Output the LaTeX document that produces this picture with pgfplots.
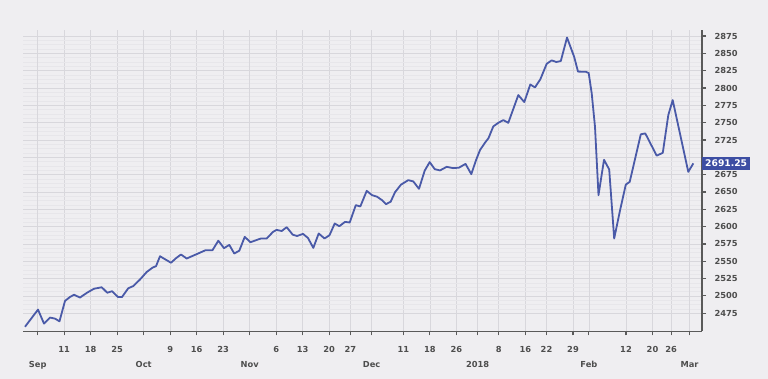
\documentclass[border=0pt]{standalone}
\usepackage{fontspec}
\setmainfont{DejaVu Sans}
\usepackage{pgfplots}
\pgfplotsset{compat=1.18}
\definecolor{bgc}{HTML}{EFEEF1}
\definecolor{majgrid}{HTML}{D8D7DC}
\definecolor{mingrid}{HTML}{E7E6EA}
\definecolor{linec}{HTML}{4A5AA8}
\definecolor{boxc}{HTML}{3D4EA3}
\definecolor{txt}{HTML}{4E4E4E}
\definecolor{axc}{HTML}{5A5A5A}
\begin{document}
\begin{tikzpicture}
\useasboundingbox (0pt,0pt) rectangle (768pt,379pt);
\fill[bgc] (0pt,0pt) rectangle (768pt,379pt);
\begin{axis}[
  at={(23.5pt,47.5pt)}, anchor=south west,
  scale only axis, width=678.5pt, height=301.5pt,
  xmin=-2.68, xmax=125.34, ymin=2448.7, ymax=2883.7,
  axis x line*=bottom, axis y line*=right,
  x axis line style={-, axc, line width=1.4pt},
  y axis line style={-, axc, line width=1.4pt},
  tick align=outside, major tick length=4pt,
  tick style={axc, line width=1.1pt},
  minor tick length=0pt,
  xtick={5,10,15,25,30,35,45,50,55,59,69,74,79,87,92,96,101,111,116,119.5},
  xticklabels={11,18,25,9,16,23,6,13,20,27,11,18,26,8,16,22,29,12,20,26},
  extra x ticks={0,20,40,63,83,104,123},
  extra x tick labels={Sep,Oct,Nov,Dec,2018,Feb,Mar},
  extra x tick style={xticklabel style={yshift=-15pt}, grid=major},
  ytick={2475,2500,...,2875},
  yticklabels={2475,2500,2525,2550,2575,2600,2625,2650,2675,{},2725,2750,2775,2800,2825,2850,2875},
  yticklabel pos=right,
  yticklabel style={anchor=west, xshift=5pt},
  xticklabel style={yshift=-7pt},
  ticklabel style={font=\bfseries\fontsize{8.3}{10}\selectfont, text=txt},
  /pgf/number format/assume math mode=true,
  /pgf/number format/1000 sep={},
  minor x tick num=3, minor y tick num=3,
  grid=both,
  major grid style={majgrid, line width=0.8pt},
  minor grid style={mingrid, line width=0.5pt},
  clip=false,
]
\addplot[linec, line width=1.8pt, line join=round] coordinates {
(-2.40,2455.5) (0.06,2480.3) (1.19,2460.1) (2.32,2468.8) (3.26,2467.3) (4.11,2463.4)
(5.15,2492.8) (6.09,2498.5) (6.85,2501.7) (7.98,2497.7) (9.30,2504.6) (10.62,2510.4)
(12.08,2512.5) (13.13,2504.6) (14.02,2506.8) (15.15,2498.5) (15.91,2498.5) (17.09,2511.1)
(18.04,2514.3) (19.30,2523.7) (20.57,2534.6) (21.70,2541.0) (22.32,2542.9) (23.08,2557.3)
(24.08,2552.7) (25.15,2547.9) (26.09,2554.4) (27.04,2559.8) (28.11,2554.0) (29.30,2558.0)
(30.62,2562.4) (31.66,2566.0) (32.98,2566.0) (34.08,2579.7) (35.15,2568.9) (36.15,2573.6)
(37.09,2561.2) (38.04,2565.3) (39.06,2585.2) (40.15,2577.5) (41.19,2580.4) (42.13,2582.9)
(43.21,2582.9) (44.40,2592.4) (45.06,2595.3) (46.04,2593.7) (46.98,2599.2) (48.11,2588.4)
(48.92,2586.5) (50.06,2589.5) (51.00,2583.6) (52.00,2569.3) (53.02,2590.1) (54.11,2582.9)
(55.06,2587.6) (56.04,2604.5) (56.91,2600.6) (57.98,2606.8) (58.87,2606.0) (60.02,2631.0)
(60.87,2629.1) (62.08,2651.6) (63.08,2645.4) (64.02,2643.2) (64.96,2638.2) (65.72,2632.4)
(66.60,2636.0) (67.42,2649.7) (68.55,2660.6) (69.92,2667.1) (70.87,2665.2) (71.94,2654.5)
(73.02,2680.8) (73.96,2693.1) (74.91,2682.9) (75.91,2681.1) (77.17,2686.3) (78.36,2684.4)
(79.49,2685.1) (80.72,2690.5) (81.81,2675.7) (82.70,2695.9) (83.45,2710.4) (84.40,2721.2)
(85.06,2727.7) (85.96,2744.6) (86.91,2749.8) (87.85,2753.7) (88.79,2749.8) (90.68,2789.8)
(91.81,2779.7) (92.94,2805.0) (93.83,2800.9) (94.83,2812.5) (96.04,2835.0) (96.98,2839.9)
(97.85,2837.5) (98.70,2838.9) (99.87,2872.8) (101.23,2844.7) (101.94,2823.7) (103.42,2823.4)
(103.96,2821.6) (104.53,2792.3) (105.15,2744.0) (105.81,2645.4) (106.85,2696.4) (107.83,2682.5)
(108.77,2582.9) (109.87,2623.3) (110.96,2660.6) (111.70,2664.6) (113.79,2733.2) (114.64,2734.5)
(116.79,2702.4) (117.94,2706.5) (118.98,2760.9) (119.81,2782.6) (122.75,2679.0) (123.70,2691.25)
};
\node[anchor=west, fill=boxc, text=white, inner xsep=3pt, inner ysep=0pt, minimum height=13pt,
      font=\bfseries\fontsize{9.2}{10}\selectfont] at (axis cs:125.34,2691.25) {2691.25};
\end{axis}
\end{tikzpicture}
\end{document}
